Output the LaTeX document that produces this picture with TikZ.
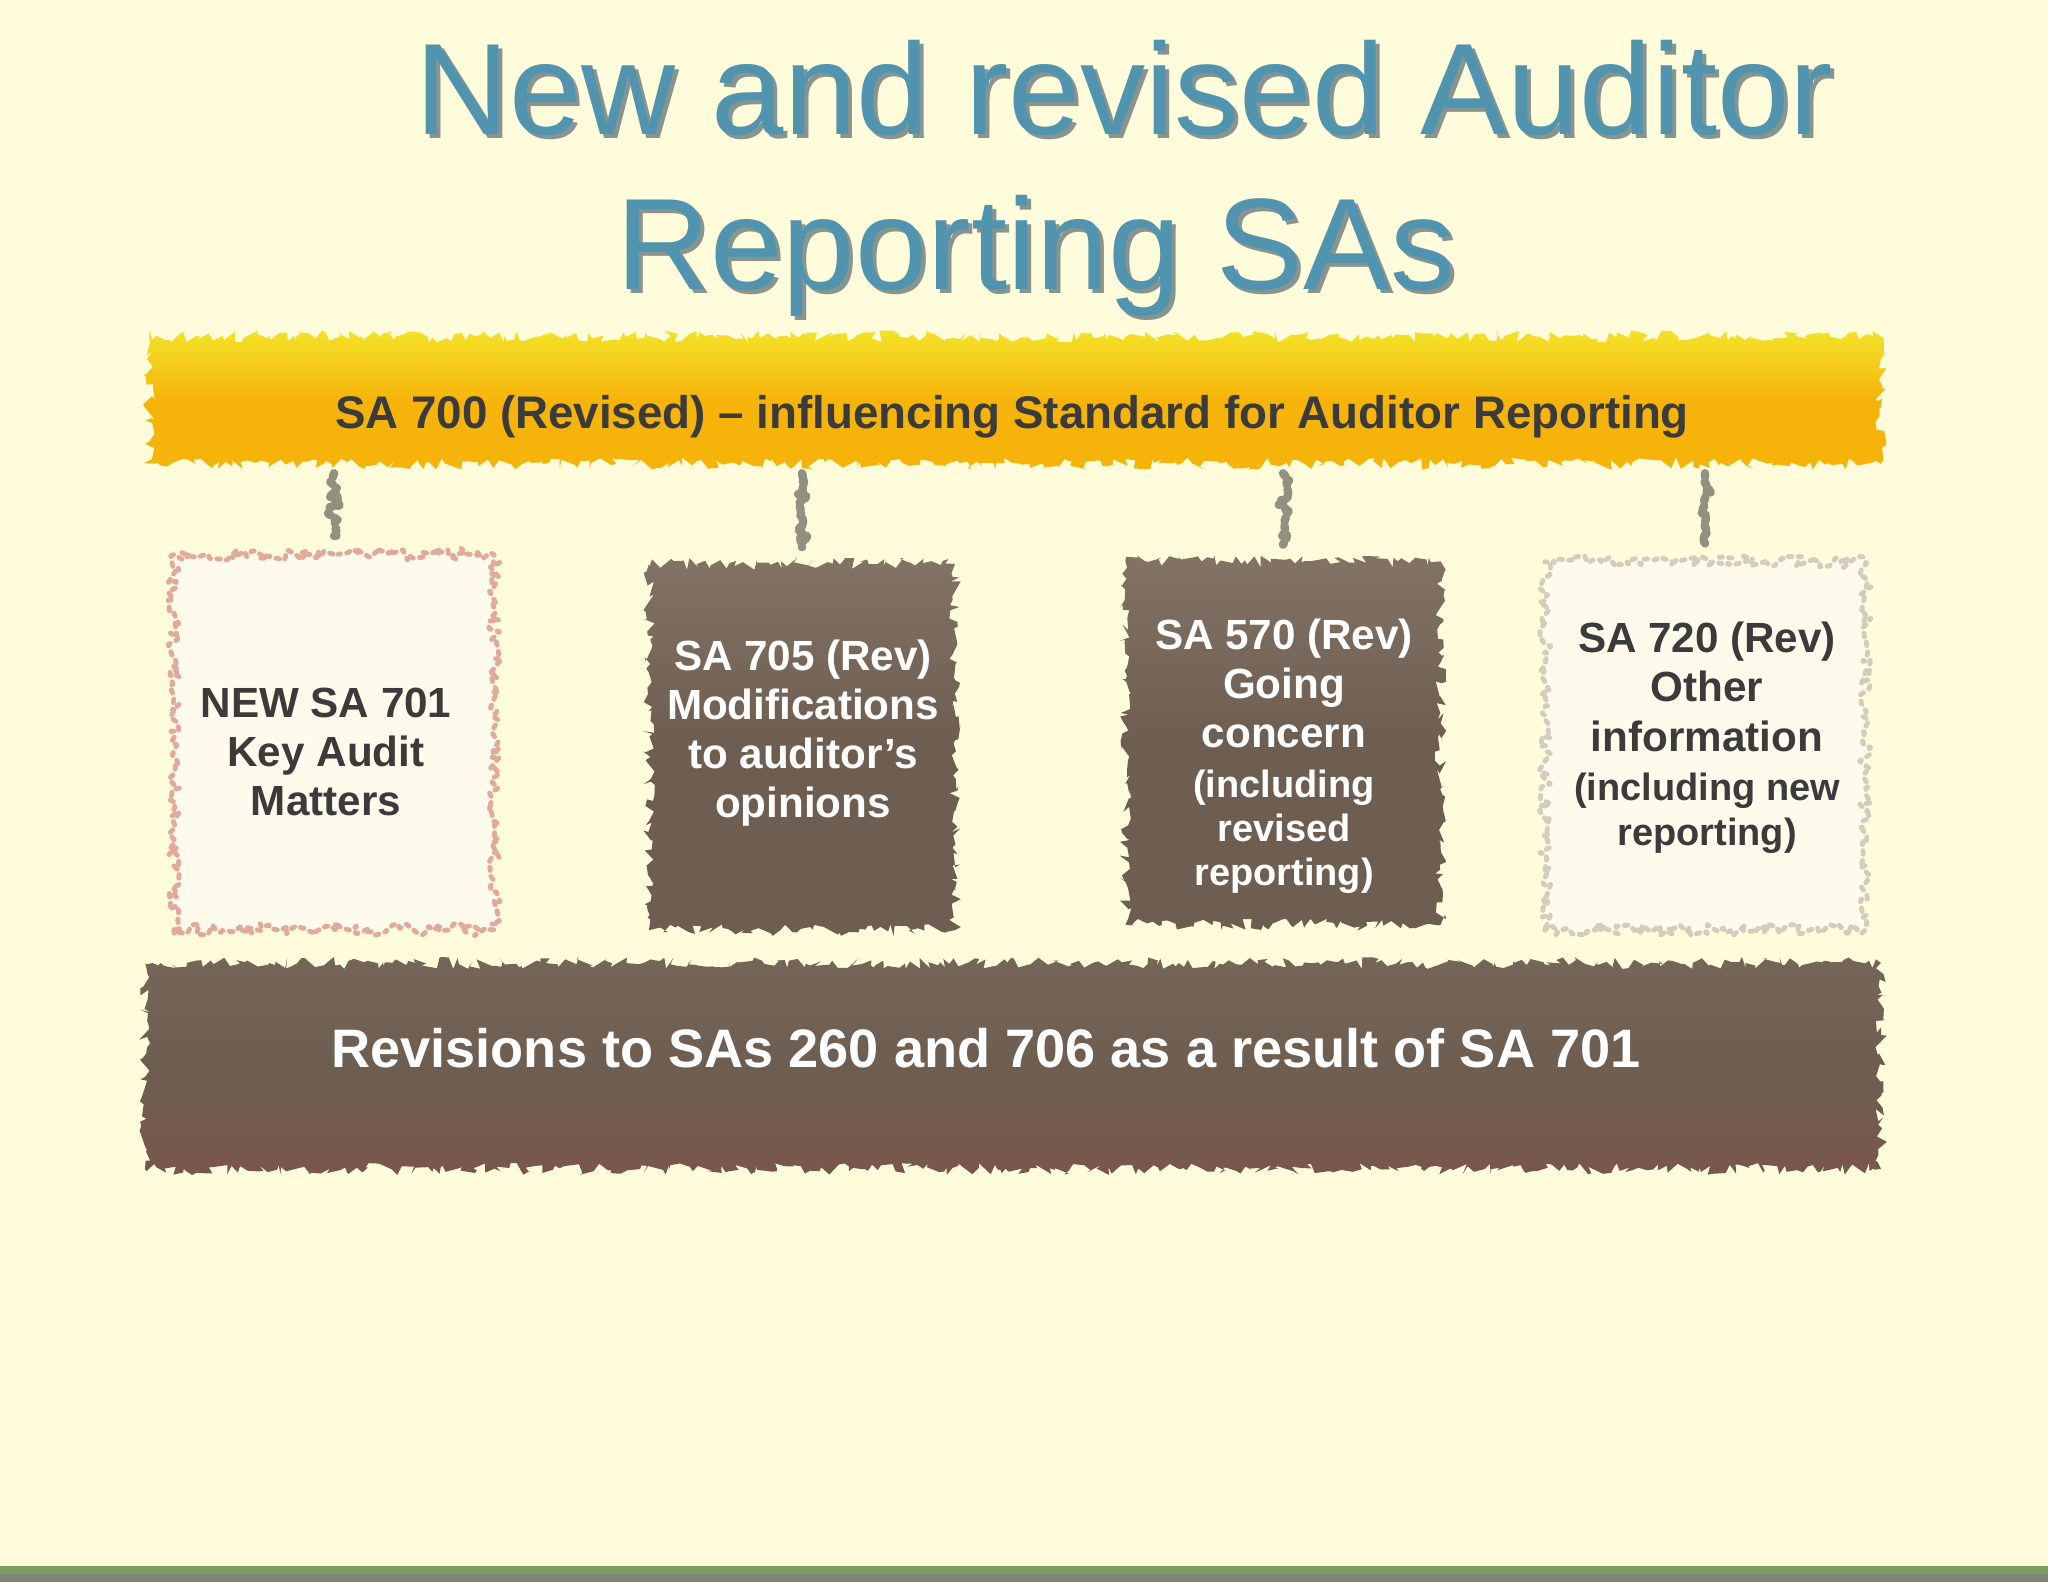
\documentclass[tikz,border=0pt]{standalone}
\usepackage{fontspec}
\setmainfont{Liberation Sans}
\usetikzlibrary{decorations.pathmorphing}

\definecolor{paper}{RGB}{255,252,220}
\definecolor{titleblue}{RGB}{80,148,176}
\definecolor{titleshade}{RGB}{40,66,78}
\definecolor{barorange}{RGB}{246,180,10}
\definecolor{baryellow}{RGB}{244,226,40}
\definecolor{brownbox}{RGB}{110,94,82}
\definecolor{brownlight}{RGB}{160,146,128}
\definecolor{textdark}{RGB}{59,59,59}
\definecolor{pinkedge}{RGB}{218,150,138}
\definecolor{grayedge}{RGB}{200,194,180}
\definecolor{paleinside}{RGB}{255,251,236}
\definecolor{linkgray}{RGB}{100,100,88}
\definecolor{stripgreen}{RGB}{126,158,98}
\definecolor{stripgray}{RGB}{128,132,116}

\newcommand{\minortext}{\fontsize{10.8}{12.6}\selectfont}

\tikzset{
  rough/.style={decorate, decoration={random steps, segment length=1.3pt, amplitude=1.7pt},
    line join=round, line cap=round},
  titletext/.style={text=titleblue, font=\fontsize{37}{40}\selectfont, inner sep=0pt},
  titleshadow/.style={text=titleshade, opacity=0.55, font=\fontsize{37}{40}\selectfont, inner sep=0pt},
  yellowbar/.style={rough, top color=baryellow, bottom color=barorange, middle color=barorange},
  darkbox/.style={rough, top color=brownbox!60!brownlight, bottom color=brownbox, middle color=brownbox},
  palebox/.style={rough, fill=paleinside, draw=#1, draw opacity=0.8, line width=1.4pt,
    dash pattern=on 1pt off 1.8pt},
  boxtext/.style={text=#1, align=center, inner sep=0pt, font=\bfseries\fontsize{12}{14}\selectfont},
  link/.style={rough, draw=linkgray, opacity=0.7, line width=2.4pt, dash pattern=on 1.2pt off 1.2pt}
}

\begin{document}
\begin{tikzpicture}[x=0.01cm,y=-0.01cm]
\pgfmathsetseed{11}
\useasboundingbox (0,0) rectangle (2048,1582);
% The background
\fill[paper] (0,0) rectangle (2048,1582);
\fill[stripgreen] (0,1566) rectangle (2048,1574);
\fill[stripgray] (0,1574) rectangle (2048,1582);

% The title
\node[titleshadow, anchor=base west] (t1s) at (419,139) {New and revised Auditor};
\node[titletext, anchor=base west] (t1) at (415,135) {New and revised Auditor};
\node[titleshadow, anchor=base west] (t2s) at (620,294) {Reporting SAs};
\node[titletext, anchor=base west] (t2) at (616,290) {Reporting SAs};

% The bar for SA 700
\node[yellowbar, minimum width=17.31cm, minimum height=1.27cm] (sa700) at (1015,400) {};
\node[text=textdark, font=\bfseries\fontsize{13}{15}\selectfont] (sa700t) at (1012,417)
  {SA 700 (Revised) – influencing Standard for Auditor Reporting};

% The four boxes
\node[palebox=pinkedge, minimum width=3.2cm, minimum height=3.75cm] (b1) at (334,742) {};
\node[darkbox, minimum width=3.06cm, minimum height=3.66cm] (b2) at (802,747) {};
\node[darkbox, minimum width=3.15cm, minimum height=3.63cm] (b3) at (1283,743) {};
\node[palebox=grayedge, minimum width=3.2cm, minimum height=3.68cm] (b4) at (1705,746) {};

% The texts in the boxes
\node[boxtext=textdark] (b1t) at (326,752) {NEW SA 701\\ Key Audit\\ Matters};
\node[boxtext=white] (b2t) at (803,733) {SA 705 (Rev)\\ Modifications\\ to auditor’s\\ opinions};
\node[boxtext=white] (b3t) at (1284,756)
  {SA 570 (Rev)\\ Going\\ concern\\ {\minortext (including}\\[-1.4pt] {\minortext revised}\\[-1.6pt] {\minortext reporting)}};
\node[boxtext=textdark] (b4t) at (1707,738)
  {SA 720 (Rev)\\ Other\\ information\\ {\minortext (including new}\\[-1pt] {\minortext reporting)}};

% The links from the bar
\foreach \bx in {b1,b2,b3,b4}
  \draw[link] ([yshift=-0.09cm]sa700.south -| \bx.north) -- ([yshift=0.16cm]\bx.north);

% The bar for the revisions
\node[darkbox, top color=brownbox!85!brownlight, bottom color=brownbox!92!red, middle color=brownbox,
  minimum width=17.35cm, minimum height=2.06cm] (rev) at (1013,1066) {};
\node[boxtext=white, font=\bfseries\fontsize{15.4}{18}\selectfont] (revt) at (986,1048)
  {Revisions to SAs 260 and 706 as a result of SA 701};

\end{tikzpicture}
\end{document}
